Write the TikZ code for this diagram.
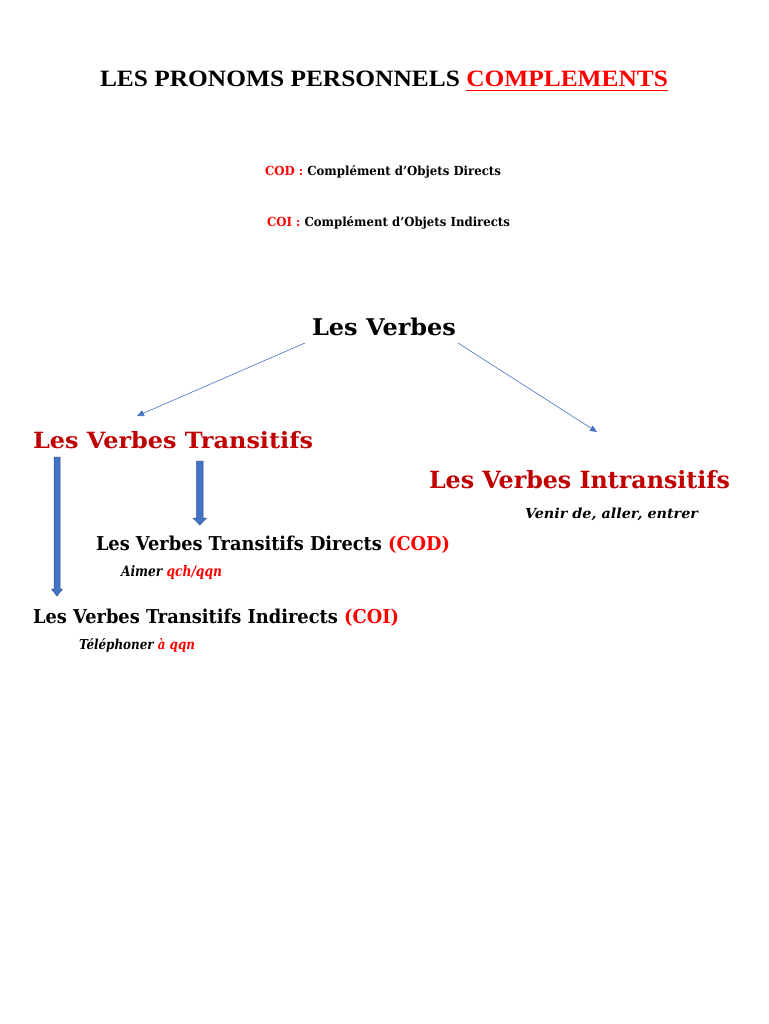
\documentclass[tikz,border=0pt]{standalone}
\usepackage{fontspec}
\setmainfont{DejaVu Serif}
\newfontfamily\timesf{Liberation Serif Bold}
\usepackage{graphicx}
\usetikzlibrary{arrows.meta}
\definecolor{darkred}{HTML}{C00000}
\definecolor{brightred}{HTML}{FF0000}
\definecolor{arrowblue}{HTML}{4472C4}
\definecolor{arrowedge}{HTML}{2F528F}
\tikzset{
  txt/.style={anchor=base west, inner sep=0pt, outer sep=0pt},
  thinarrow/.style={draw=arrowblue, line width=0.6pt, -{Triangle[length=7pt,width=6pt]}},
  blockarrow/.style={fill=arrowblue, draw=arrowedge, line width=0.5pt}
}
\newcommand{\fitwh}[3]{\resizebox{#1pt}{#2pt}{#3}}
\begin{document}
\begin{tikzpicture}[x=1pt,y=-1pt]
\useasboundingbox (0,0) rectangle (768,1024);
\fill[white] (0,0) rectangle (768,1024);
% title
\node[txt] (title) at (100,87) {\fitwh{568}{15.5}{\timesf LES PRONOMS PERSONNELS \textcolor{brightred}{\underline{COMPLEMENTS}}}};
\node[txt] (cod) at (265,176) {\fitwh{236}{10}{\bfseries\textcolor{brightred}{COD :} Complément d'Objets Directs}};
\node[txt] (coi) at (267,226) {\fitwh{243}{10}{\bfseries\textcolor{brightred}{COI :} Complément d'Objets Indirects}};
% main
\node[txt] (verbes) at (312,335.5) {\fitwh{144}{17.5}{\bfseries Les Verbes}};
\node[txt] (trans) at (33,448.5) {\fitwh{280}{17}{\bfseries\color{darkred}Les Verbes Transitifs}};
\node[txt] (intrans) at (429,488.5) {\fitwh{301}{18}{\bfseries\color{darkred}Les Verbes Intransitifs}};
\node[txt] (venir) at (525,518.5) {\fitwh{173}{10.5}{\bfseries\itshape Venir de, aller, entrer}};
\node[txt] (direct) at (96,550) {\fitwh{354}{14.5}{\bfseries Les Verbes Transitifs Directs \textcolor{brightred}{(COD)}}};
\node[txt] (aimer) at (121,576) {\fitwh{101}{11}{\bfseries\itshape Aimer \textcolor{brightred}{qch/qqn}}};
\node[txt] (indirect) at (33,623) {\fitwh{366}{14.5}{\bfseries Les Verbes Transitifs Indirects \textcolor{brightred}{(COI)}}};
\node[txt] (tel) at (79,649) {\fitwh{116}{11}{\bfseries\itshape Téléphoner \textcolor{brightred}{à qqn}}};
% thin arrows
\coordinate (a1s) at (305,343);
\coordinate (a1e) at (137,416);
\coordinate (a2s) at (458,343);
\coordinate (a2e) at (597,432);
\draw[thinarrow] (a1s) -- (a1e);
\draw[thinarrow] (a2s) -- (a2e);
% block arrows
\draw[blockarrow] (54,457) -- (60,457) -- (60,589) -- (62.5,589) -- (57,596) -- (51.5,589) -- (54,589) -- cycle;
\draw[blockarrow] (196.5,461) -- (203,461) -- (203,518) -- (206.5,518) -- (199.75,525) -- (193,518) -- (196.5,518) -- cycle;
\end{tikzpicture}
\end{document}
